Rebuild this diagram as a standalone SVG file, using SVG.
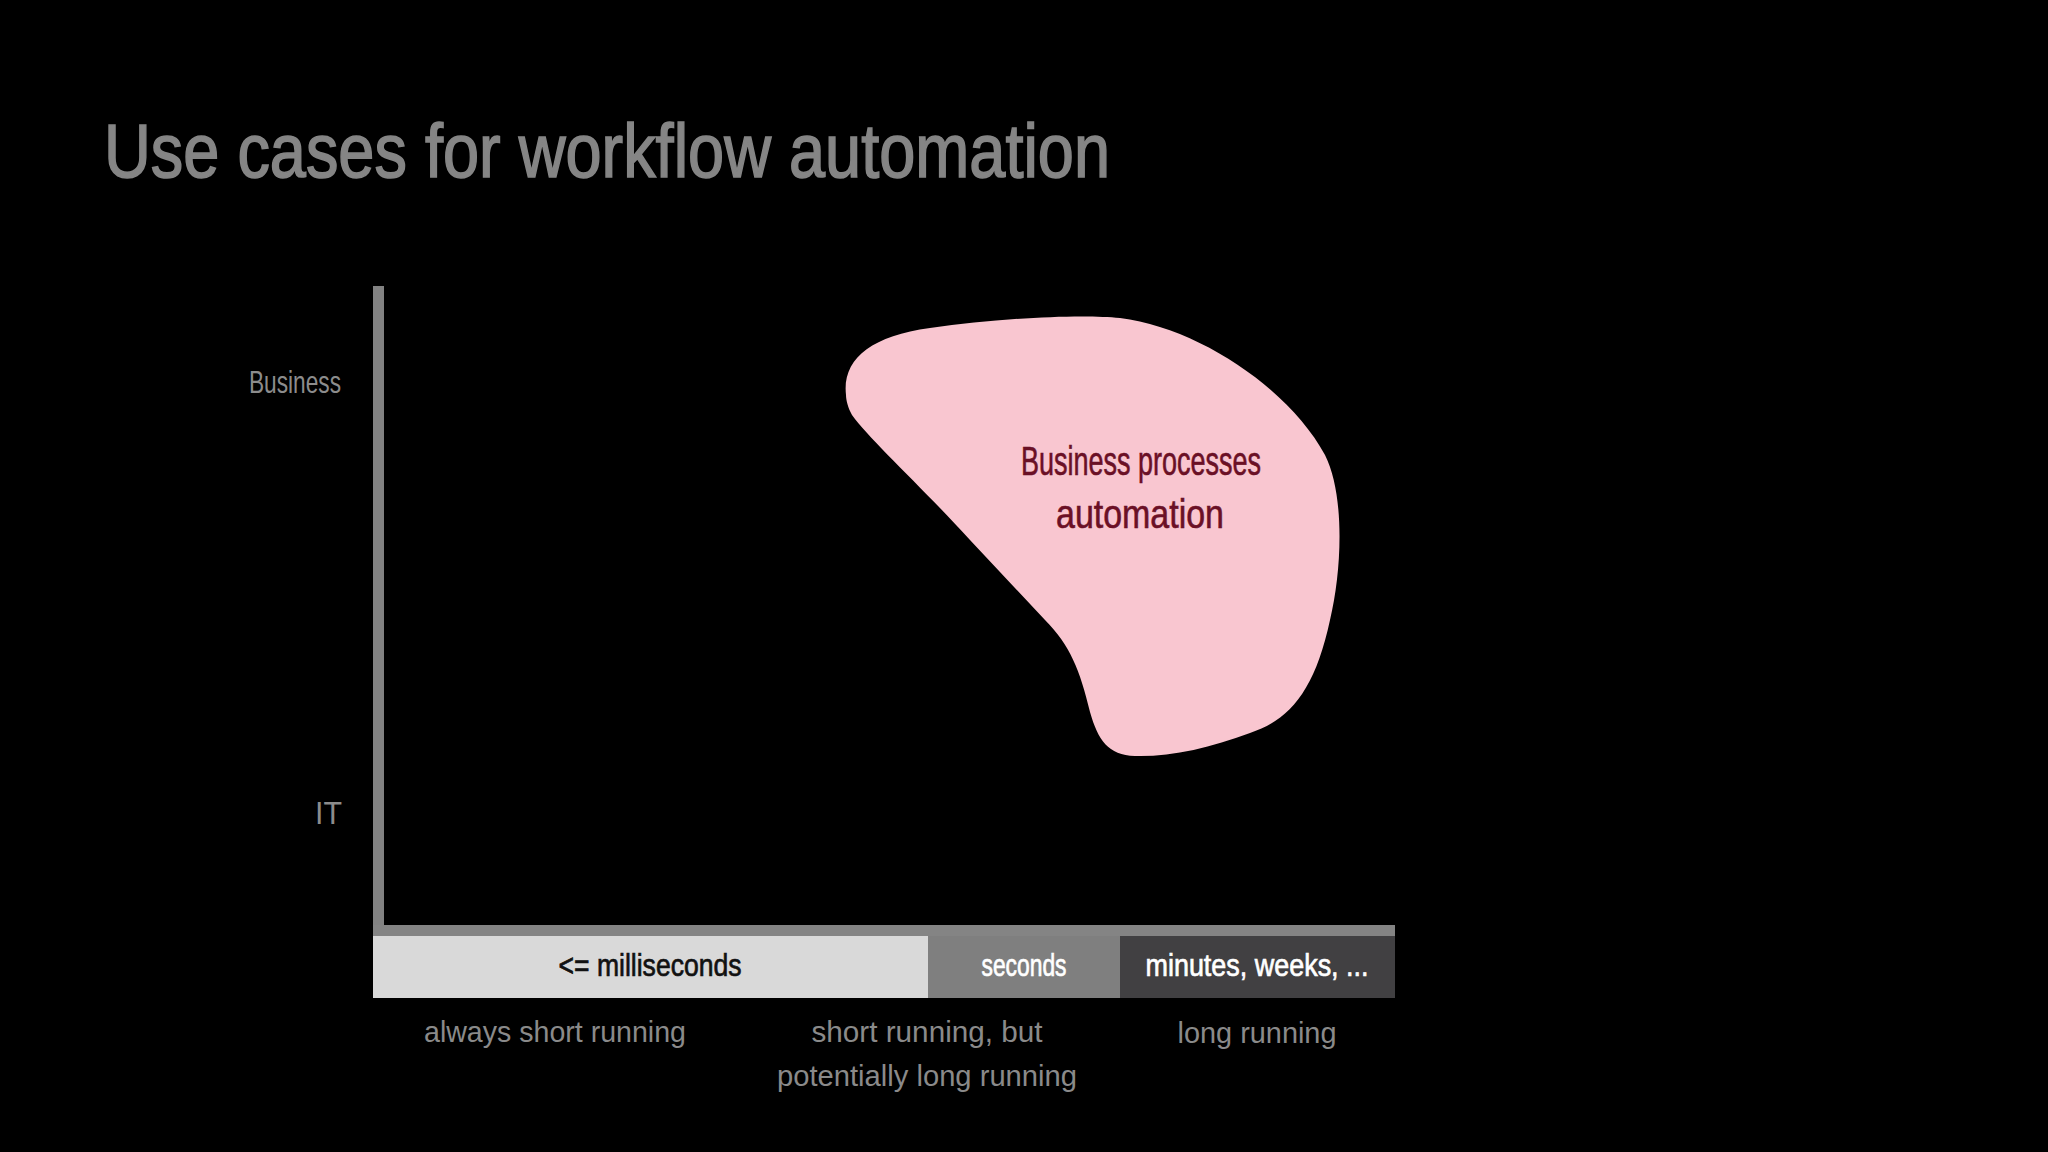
<svg xmlns="http://www.w3.org/2000/svg" width="2048" height="1152" viewBox="0 0 2048 1152">
  <style>
    text { font-family: "Liberation Sans", Arial, sans-serif; }
    .title { font-size: 76px; fill: #858585; stroke: #858585; stroke-width: 1.6px; }
    .axislabel { font-size: 32px; fill: #8c8c8c; }
    .sub { font-size: 29px; fill: #8a8a8a; text-anchor: middle; }
    .bar { font-size: 32px; text-anchor: middle; stroke-width: 0.7px; }
    .blobtext { font-size: 40px; fill: #6b1026; stroke: #6b1026; stroke-width: 0.6px; text-anchor: middle; }
  </style>
  <rect x="0" y="0" width="2048" height="1152" fill="#000000"/>

  <g id="title">
    <text class="title" x="104" y="177" textLength="1006" lengthAdjust="spacingAndGlyphs">Use cases for workflow automation</text>
  </g>

  <g id="axes">
    <rect x="373" y="286" width="11" height="650" fill="#828282"/>
    <rect x="373" y="925" width="1022" height="11" fill="#848484"/>
  </g>

  <g id="y-labels">
    <text class="axislabel" x="249" y="393" textLength="92" lengthAdjust="spacingAndGlyphs">Business</text>
    <text class="axislabel" x="315" y="824" textLength="27" lengthAdjust="spacingAndGlyphs">IT</text>
  </g>

  <g id="bar-milliseconds">
    <rect x="373" y="936" width="555" height="62" fill="#d9d9d9"/>
    <text class="bar" x="650" y="976" fill="#111111" stroke="#111111" textLength="183" lengthAdjust="spacingAndGlyphs">&lt;= milliseconds</text>
  </g>
  <g id="bar-seconds">
    <rect x="928" y="936" width="192" height="62" fill="#7f7f7f"/>
    <text class="bar" x="1024" y="976" fill="#ffffff" stroke="#ffffff" textLength="85" lengthAdjust="spacingAndGlyphs">seconds</text>
  </g>
  <g id="bar-minutes">
    <rect x="1120" y="936" width="275" height="62" fill="#414042"/>
    <text class="bar" x="1257" y="976" fill="#ffffff" stroke="#ffffff" textLength="223" lengthAdjust="spacingAndGlyphs">minutes, weeks, ...</text>
  </g>

  <g id="x-labels">
    <text class="sub" x="555" y="1042" textLength="262" lengthAdjust="spacingAndGlyphs">always short running</text>
    <text class="sub" x="927" y="1042" textLength="231" lengthAdjust="spacingAndGlyphs">short running, but</text>
    <text class="sub" x="927" y="1086" textLength="300" lengthAdjust="spacingAndGlyphs">potentially long running</text>
    <text class="sub" x="1257" y="1043" textLength="159" lengthAdjust="spacingAndGlyphs">long running</text>
  </g>

  <g id="blob-business-processes">
    <path d="M 846 395 C 842 360, 870 336, 930 328 C 1000 318, 1080 314, 1120 318 C 1200 328, 1290 390, 1325 455 C 1345 495, 1342 570, 1330 620 C 1315 690, 1290 720, 1250 733 C 1210 748, 1170 757, 1135 756 C 1108 755, 1098 740, 1090 712 C 1080 670, 1070 645, 1045 620 L 970 540 C 920 485, 870 440, 852 415 C 848 408, 846 400, 846 395 Z" fill="#f9c6d0"/>
    <text class="blobtext" x="1141" y="475" font-size="38" textLength="240" lengthAdjust="spacingAndGlyphs">Business processes</text>
    <text class="blobtext" x="1140" y="528" font-size="38" textLength="168" lengthAdjust="spacingAndGlyphs">automation</text>
  </g>
</svg>
